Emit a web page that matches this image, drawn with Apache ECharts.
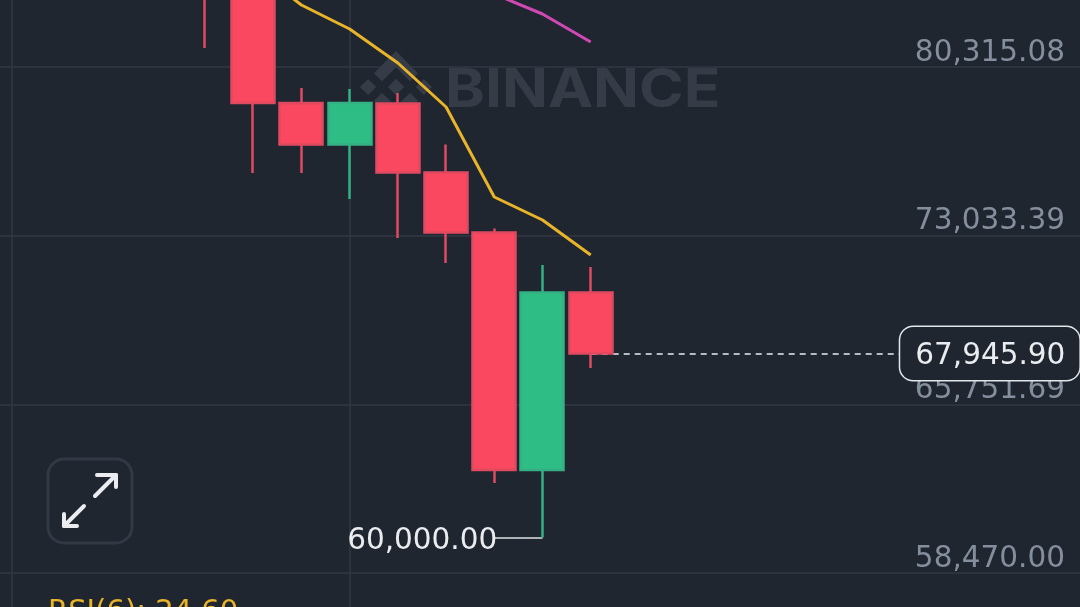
<!DOCTYPE html>
<html>
<head>
<meta charset="utf-8">
<title>BTC candles</title>
<style>
  html, body { margin: 0; padding: 0; background: #1f2630; }
  #chart { width: 1080px; height: 607px; }
</style>
</head>
<body>
<div id="chart"></div>
<script src="https://cdn.jsdelivr.net/npm/echarts@6/dist/echarts.min.js"></script>
<script>
// one slot per candle, the time labels are not visible in the picture
const categories = ["c0", "c1", "c2", "c3", "c4", "c5", "c6", "c7", "c8", "c9", "c10", "c11", "c12", "c13", "c14", "c15", "c16", "c17", "c18", "c19", "c20", "c21", "c22"];

// [open, close, low, high]. first two opens are off the top, estimated
const candles = [
  "-", "-", "-", "-",
  [86000, 84000, 81135, 87000],
  [84500, 78761, 75739, 85000],
  [78761, 76969, 75739, 79408],
  [76969, 78761, 74617, 79365],
  [78740, 75761, 72933, 79193],
  [75761, 73170, 71854, 76969],
  [73170, 62918, 62356, 73343],
  [62918, 70580, 60000, 71767],
  [70580, 67945.9, 67321, 71681],
  "-", "-", "-", "-", "-", "-", "-", "-", "-", "-"
];

const maYellow = ["-", "-", "-", "-", "-", 84589, 82992, 81956, 80488, 78588, 74703, 73710, 72199, "-", "-", "-", "-", "-", "-", "-", "-", "-", "-"];
const maPink = ["-", "-", "-", "-", "-", "-", "-", "-", "-", "-", 83466, 82603, 81394, "-", "-", "-", "-", "-", "-", "-", "-", "-", "-"];

const priceTicks = [58470.00, 65751.69, 73033.39, 80315.08];
const lastPrice = 67945.90;
const lowPrice = 60000.00;
const rsiText = "RSI(6): 24.60";

const FONT = "'DejaVu Sans', sans-serif";
const BG = "#1f2630";
const GRID = "#323843";

function money(v) {
  return v.toLocaleString("en-US", { minimumFractionDigits: 2, maximumFractionDigits: 2 });
}

// watermark logo pieces on a 32 unit box
const logoPieces = [
  [[9.79, 13.45], [16, 7.24], [22.21, 13.45], [25.82, 9.84], [16, 0], [6.18, 9.84]],
  [[0, 16], [3.61, 12.39], [7.22, 16], [3.61, 19.61]],
  [[9.79, 18.55], [16, 24.76], [22.21, 18.55], [25.82, 22.16], [16, 32], [6.18, 22.16]],
  [[24.78, 16], [28.39, 12.39], [32, 16], [28.39, 19.61]],
  [[19.66, 16], [16, 12.34], [12.34, 16], [16, 19.66]],
];

const logoShapes = logoPieces.map((piece) => ({
  type: "polygon",
  z: 1,
  silent: true,
  shape: { points: piece.map((p) => [360 + p[0] * 2.25, 51 + p[1] * 2.25]) },
  style: { fill: "#363c47" },
}));

const chart = echarts.init(document.getElementById("chart"), null, { renderer: "canvas" });

chart.setOption({
  animation: false,
  backgroundColor: BG,
  // grid sticks out past the page so the candle slots land where they do in the picture
  grid: { left: -12, right: -17, top: 0, bottom: 0, outerBoundsMode: "none" },
  xAxis: {
    type: "category",
    data: categories,
    boundaryGap: true,
    axisLine: { show: false },
    axisTick: { show: false },
    axisLabel: { show: false },
    splitLine: {
      show: true,
      alignWithLabel: true,
      interval: (i) => i === 0 || i === 7,
      lineStyle: { color: GRID, width: 1.5 },
    },
  },
  yAxis: {
    type: "value",
    position: "right",
    min: 57003,
    max: 83207.5,
    scale: true,
    axisLine: { show: false },
    axisTick: { show: false, customValues: priceTicks },
    axisLabel: {
      show: true,
      inside: true,
      customValues: priceTicks,
      formatter: money,
      color: "#848e9c",
      fontFamily: FONT,
      fontSize: 29.5,
      margin: 32,
      align: "right",
      verticalAlign: "bottom",
      lineHeight: 28,
    },
    splitLine: { show: true, lineStyle: { color: GRID, width: 1.5 } },
  },
  series: [
    {
      type: "candlestick",
      data: candles,
      barWidth: 43.5,
      itemStyle: {
        color: "#2ebd85",
        color0: "#f9485f",
        borderColor: "#35b083",
        borderColor0: "#e04a61",
        borderWidth: 2.5,
      },
      markLine: {
        silent: true,
        symbol: "none",
        z: 1,
        label: { show: false },
        data: [
          [
            {
              coord: ["c12", lastPrice],
              lineStyle: { color: "#eaecef", type: [6, 5], width: 1.5 },
            },
            { coord: ["c19", lastPrice] },
          ],
          [
            {
              coord: ["c10", lowPrice],
              lineStyle: { color: "#dfe3e8", type: "solid", width: 1.5 },
            },
            { coord: ["c11", lowPrice] },
          ],
        ],
      },
      markPoint: {
        silent: true,
        symbol: "circle",
        symbolSize: 0,
        data: [
          {
            coord: ["c19", lastPrice],
            label: {
              show: true,
              position: "right",
              distance: 0,
              offset: [-28, 0],
              formatter: "{p|" + money(lastPrice) + "}",
              backgroundColor: BG,
              borderColor: "#e3e6ea",
              borderWidth: 1.5,
              borderRadius: 13,
              padding: [9, 14, 9, 15],
              rich: {
                p: {
                  color: "#eaecef",
                  fontFamily: FONT,
                  fontSize: 29.5,
                  padding: [5, 0, 0, 0],
                },
              },
            },
          },
          {
            coord: ["c10", lowPrice],
            label: {
              show: true,
              position: "left",
              distance: 0,
              offset: [3, 4],
              formatter: money(lowPrice),
              color: "#eaecef",
              fontFamily: FONT,
              fontSize: 29.5,
            },
          },
        ],
      },
      z: 3,
    },
    {
      type: "line",
      data: maYellow,
      symbol: "none",
      lineStyle: { color: "#e9b42a", width: 3 },
      z: 4,
    },
    {
      type: "line",
      data: maPink,
      symbol: "none",
      lineStyle: { color: "#d048b4", width: 3 },
      z: 4,
    },
  ],
  graphic: logoShapes.concat([
    {
      type: "text",
      z: 1,
      silent: true,
      x: 445,
      y: 65,
      scaleX: 1.139,
      style: {
        text: "BINANCE",
        fill: "#363c47",
        font: "700 53px Inter, sans-serif",
      },
    },
    // expand button
    {
      type: "rect",
      z: 6,
      silent: true,
      shape: { x: 48, y: 459, width: 84, height: 84, r: 16 },
      style: { fill: "transparent", stroke: "#323844", lineWidth: 3 },
    },
    {
      type: "polyline",
      z: 6,
      silent: true,
      shape: { points: [[95, 496], [116, 475]] },
      style: { stroke: "#eaecef", lineWidth: 4, lineCap: "round", fill: "none" },
    },
    {
      type: "polyline",
      z: 6,
      silent: true,
      shape: { points: [[97, 475], [116, 475], [116, 487]] },
      style: { stroke: "#eaecef", lineWidth: 4, lineCap: "round", lineJoin: "round", fill: "none" },
    },
    {
      type: "polyline",
      z: 6,
      silent: true,
      shape: { points: [[84, 506], [64, 526]] },
      style: { stroke: "#eaecef", lineWidth: 4, lineCap: "round", fill: "none" },
    },
    {
      type: "polyline",
      z: 6,
      silent: true,
      shape: { points: [[64, 514], [64, 526], [77, 526]] },
      style: { stroke: "#eaecef", lineWidth: 4, lineCap: "round", lineJoin: "round", fill: "none" },
    },
    {
      type: "text",
      z: 6,
      silent: true,
      x: 48,
      y: 598,
      style: { text: rsiText, fill: "#e9b42a", font: "29px " + FONT },
    },
  ]),
});
</script>
</body>
</html>
